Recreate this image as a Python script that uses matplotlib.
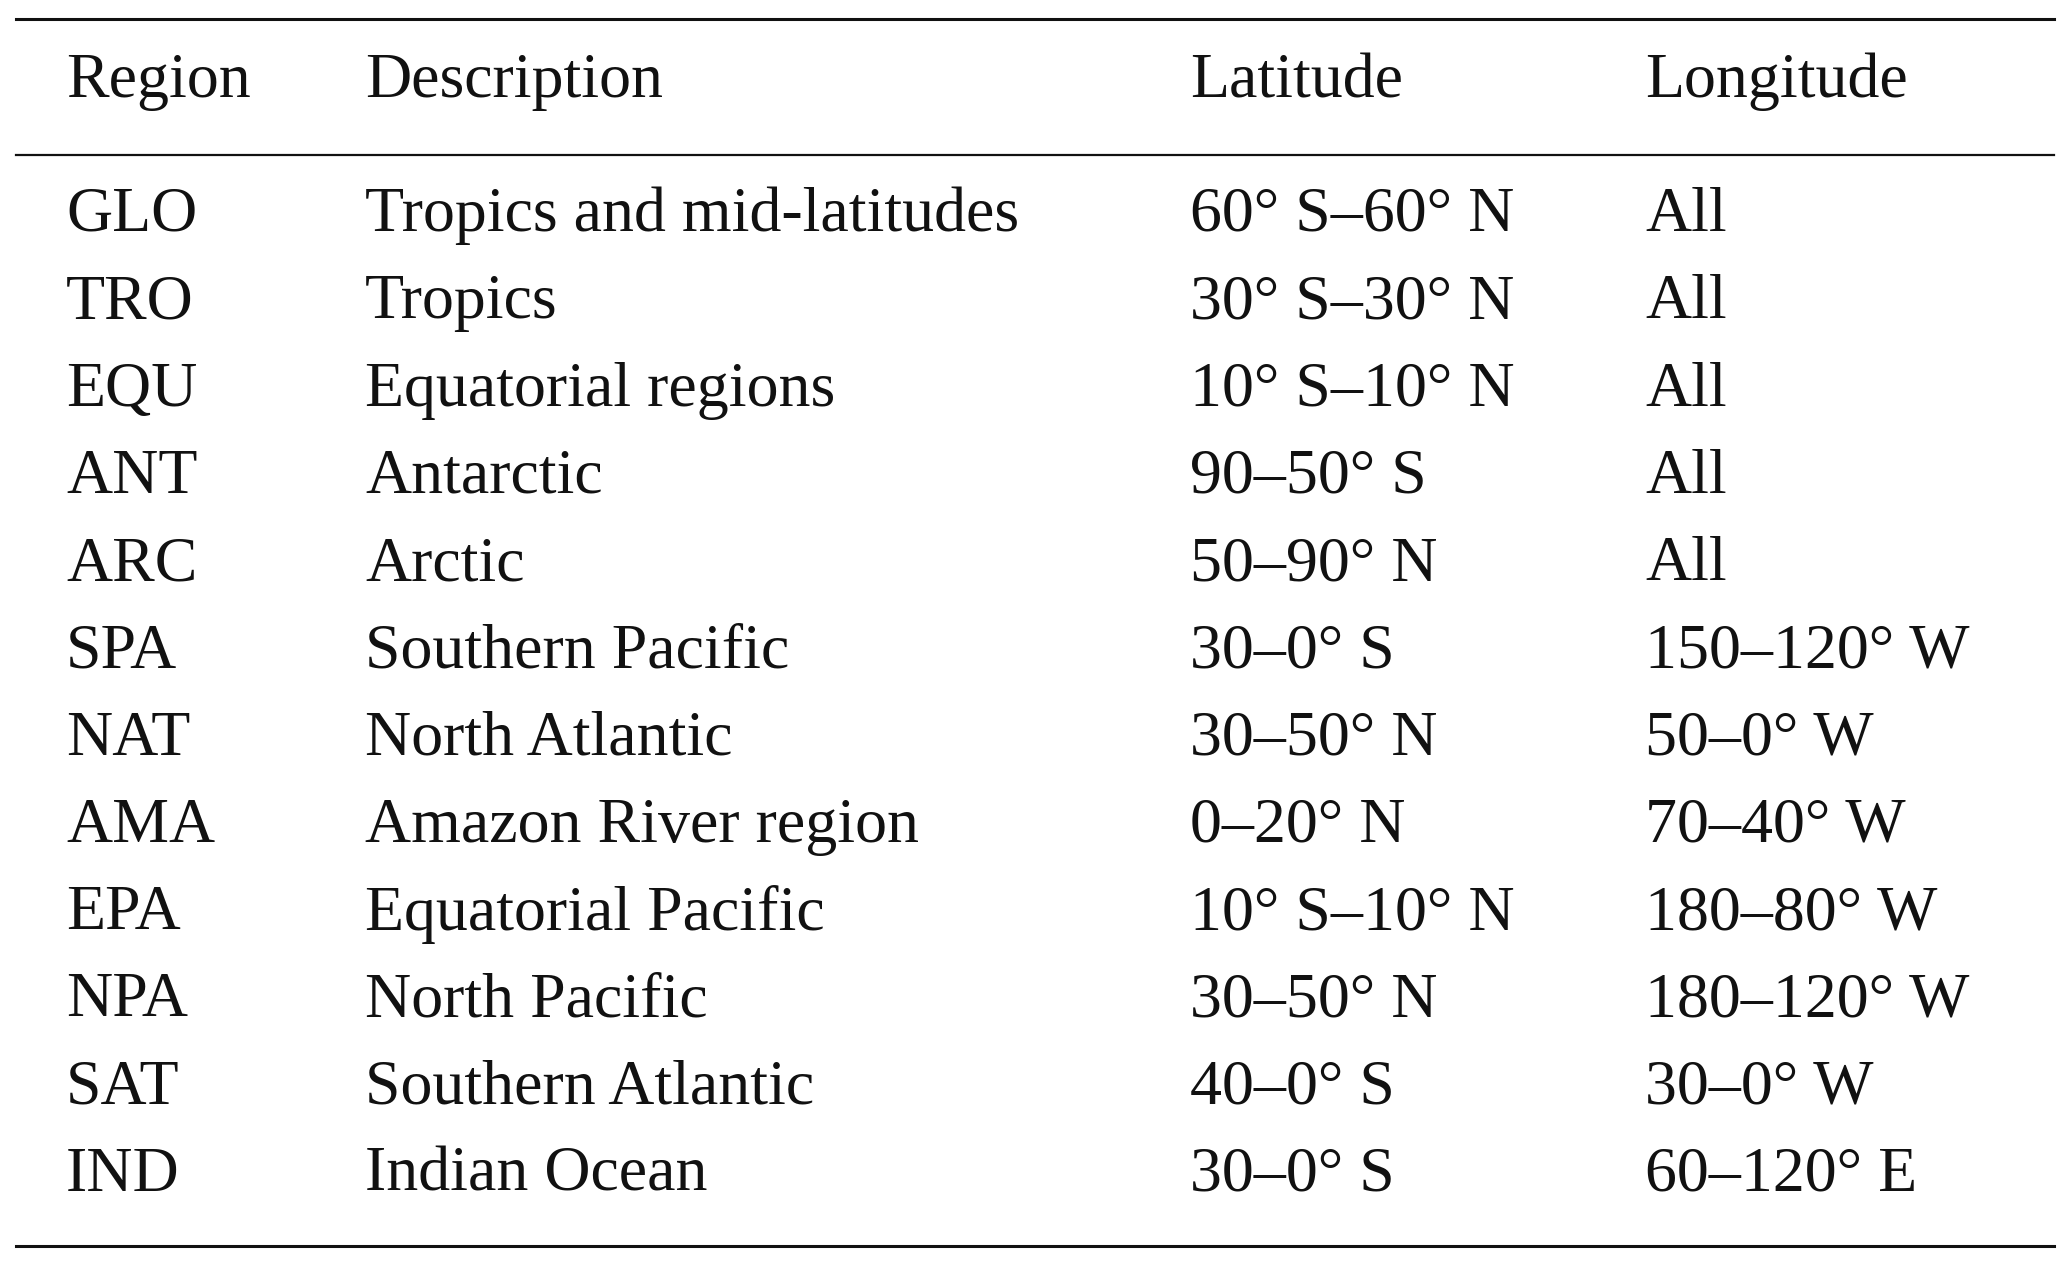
import matplotlib
matplotlib.use("Agg")
import matplotlib.pyplot as plt

headers = ["Region", "Description", "Latitude", "Longitude"]
regions = ["GLO","TRO","EQU","ANT","ARC","SPA","NAT","AMA","EPA","NPA","SAT","IND"]
descriptions = ["Tropics and mid-latitudes","Tropics","Equatorial regions","Antarctic","Arctic",
                "Southern Pacific","North Atlantic","Amazon River region","Equatorial Pacific",
                "North Pacific","Southern Atlantic","Indian Ocean"]
latitudes = ["60° S–60° N","30° S–30° N","10° S–10° N","90–50° S","50–90° N","30–0° S",
             "30–50° N","0–20° N","10° S–10° N","30–50° N","40–0° S","30–0° S"]
longitudes = ["All","All","All","All","All","150–120° W","50–0° W","70–40° W","180–80° W",
              "180–120° W","30–0° W","60–120° E"]

fig = plt.figure(figsize=(20.67, 12.63), dpi=100)
ax = fig.add_axes([0, 0, 1, 1])
ax.set_xlim(0, 1); ax.set_ylim(0, 1); ax.axis("off")
fs = 46
font = dict(family="Liberation Serif", fontsize=fs, va="center", ha="left", color="#111111")
xs = [0.032, 0.1766, 0.5758, 0.796]
for x, h in zip(xs, headers):
    ax.text(x, 0.935, h, **font)
cols = [regions, descriptions, latitudes, longitudes]
for i in range(len(regions)):
    y = 0.829 - i * 0.0691
    for x, c in zip(xs, cols):
        ax.text(x, y, c[i], **font)
for y, lw in [(0.985, 2.2), (0.8775, 1.6), (0.0136, 2.2)]:
    ax.plot([0.0077, 0.9936], [y, y], color="#111111", lw=lw)
fig.savefig("out.png", dpi=100)
